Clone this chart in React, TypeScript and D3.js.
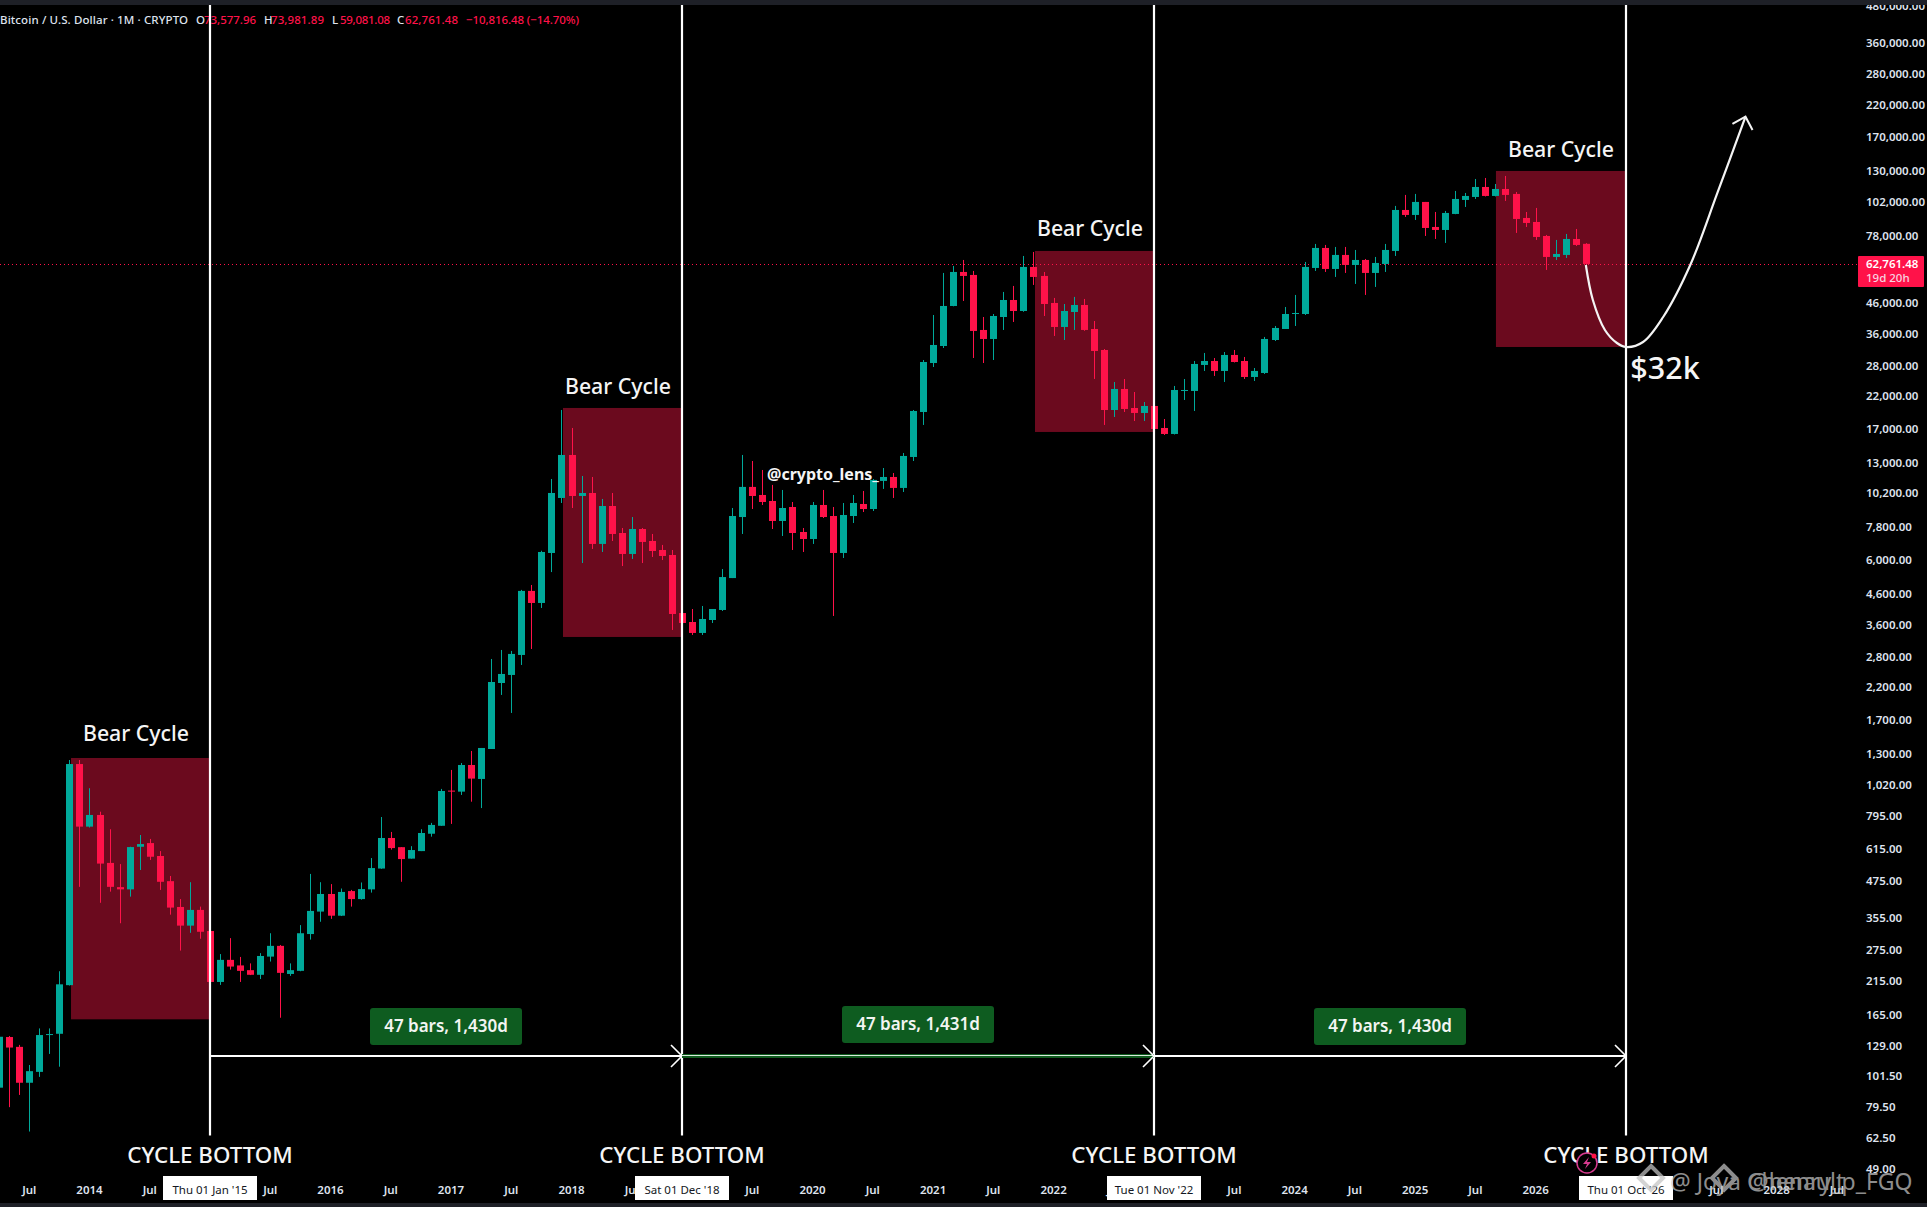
import { useEffect, useRef } from 'react';
import * as d3 from 'd3';

// monthly BTC candles, bar 0 = Apr 2013, bar 21 = Jan 2015
const opens = [
  93.2, 139.1, 128.7, 96.9, 105.6, 141.3, 142.7, 209.6, 1204, 734,
  805, 551, 455, 447, 626, 644.6, 582, 477, 389, 335.6,
  380, 321.7, 215, 256, 245, 236, 227.5, 262.7, 286, 229,
  234.7, 314, 375, 431, 363, 441, 414, 447, 527, 671,
  624, 570, 605, 694, 739, 976, 968, 1195, 1070, 1356,
  2285, 2435, 2852, 4732, 4302, 6387, 9866, 13862, 10023, 10264,
  6860, 9260, 7480, 6337, 7720, 7024, 6540, 6287, 3973, 3701,
  3394, 3760, 4070, 5238, 8487, 10768, 10103, 9634, 8225, 9187,
  7540, 7134, 9334, 8555, 6387, 8555, 9408, 9043, 11290, 11648,
  10682, 13644, 19470, 28680, 32807, 45014, 58910, 57530, 37240, 34680,
  41260, 47200, 43265, 61290, 57080, 46100, 38130, 42930, 45370, 37530,
  31790, 19780, 23357, 20097, 19320, 20420, 17159, 16365, 22990, 22990,
  28240, 29140, 26930, 30560, 29140, 25680, 26505, 34400, 37530, 42250,
  42250, 60800, 71220, 60320, 67390, 62260, 64770, 58450, 62755, 69550,
  96170, 92450, 102470, 84080, 82100, 93180, 104100, 106580, 115340, 107430,
  113540, 109170, 90280, 87470, 78300, 66330, 67390, 76460, 73577.96,
];
const highs = [
  147, 140.2, 130.7, 111.5, 148.9, 148.9, 234, 1243, 1243, 994.6,
  826, 719, 546, 626, 687, 666, 605, 497, 414, 473,
  390, 321.7, 268, 304, 262, 249, 270, 316, 288, 249,
  337, 505, 473, 466, 450, 445, 472, 572.6, 792, 703.8,
  624, 629, 719, 756, 989, 1149, 1214, 1335, 1367, 2763,
  2967, 2944, 4770, 4960, 6500, 11464, 19780, 17159, 11740, 11648,
  9790, 10264, 7782, 8487, 7782, 7422, 6806, 6540, 4268, 4102,
  4201, 4102, 5625, 9115, 13862, 13215, 12310, 10940, 10510, 9558,
  7782, 9558, 10510, 9187, 9483, 10103, 10427, 11464, 12504, 12021,
  14082, 19780, 29370, 41922, 58450, 61770, 64770, 59380, 41260, 42250,
  50300, 52740, 66850, 69000, 58910, 47970, 45730, 48360, 47590, 39980,
  32040, 24686, 25275, 22806, 21074, 21410, 18420, 23920, 25275, 29140,
  31050, 29840, 31290, 31790, 30080, 27570, 35240, 38430, 44660, 49120,
  63750, 73510, 72930, 71790, 71790, 70100, 65280, 66330, 73510, 99280,
  108300, 109170, 102470, 94660, 95410, 111760, 110010, 122870, 123850, 118110,
  125840, 110880, 94660, 97720, 78920, 75870, 79550, 82760, 73981.89,
];
const lows = [
  91, 79.9, 88, 65.9, 101.5, 121.7, 110, 209, 456, 729,
  402, 439, 342, 422, 521, 564, 445, 366, 275.5, 317,
  302.5, 167, 210, 237, 215, 227, 220, 252.6, 162, 225.6,
  234, 300.5, 346, 354, 362, 390, 412, 435.7, 526, 612,
  474.6, 570, 605, 678, 739, 750, 943, 894, 850, 1356,
  2079, 1803, 2635, 2990, 4135, 5492, 9483, 9115, 5899, 6594,
  6437, 7024, 5760, 6091, 5899, 6188, 6040, 3475, 3135, 3340,
  3340, 3672, 4038, 5238, 7422, 9043, 9334, 7720, 7305, 6540,
  6437, 6860, 8420, 3882, 6139, 8096, 8829, 8900, 10598, 9866,
  10345, 13215, 17572, 27790, 32291, 44900, 46830, 29840, 28680, 29370,
  37240, 39670, 43000, 53160, 41590, 35516, 34400, 37240, 37000, 25280,
  17572, 18716, 19470, 18136, 18136, 15487, 16236, 16300, 21410, 19624,
  26930, 25890, 24686, 28800, 25275, 24880, 26300, 34130, 37530, 38430,
  41922, 59380, 58910, 56630, 58450, 53580, 49120, 52325, 58910, 66850,
  91000, 88860, 78300, 76460, 74090, 93000, 98470, 104910, 107000, 107000,
  103300, 80190, 84080, 75870, 59850, 64770, 65790, 72350, 59081.08,
];
const closes = [
  139.4, 128, 96.9, 106.2, 141.3, 142.4, 211, 1204, 734, 805,
  548, 456, 447, 624.5, 639.5, 578.5, 474.6, 387, 335.6, 380,
  319.7, 215, 256, 242.8, 234.7, 227.5, 264, 286, 231, 236,
  316, 377, 431, 363, 438, 414, 448, 529, 671, 619.5,
  568, 610, 698, 744, 973, 968, 1195, 1073, 1367, 2303,
  2454, 2875, 4732, 4302, 6437, 10264, 13862, 10023, 10264, 6860,
  9260, 7422, 6337, 7720, 6969, 6488, 6237, 3943, 3672, 3394,
  3790, 4102, 5280, 8555, 10768, 10023, 9558, 8225, 9115, 7480,
  7134, 9334, 8487, 6387, 8623, 9483, 9043, 11380, 11648, 10682,
  13752, 19624, 28910, 33070, 45014, 58910, 57080, 36950, 34680, 41590,
  47200, 43265, 61290, 56630, 45730, 38130, 43265, 45370, 37240, 31540,
  19780, 23357, 19940, 19320, 20420, 17024, 16365, 23170, 23170, 28460,
  29140, 26930, 30560, 28910, 25680, 26930, 34680, 37830, 42250, 42590,
  61290, 71220, 60320, 67390, 62260, 64770, 58450, 63250, 70100, 96170,
  92450, 102470, 83410, 82100, 93920, 104910, 107430, 115340, 107430, 113540,
  108300, 89560, 86780, 77680, 66330, 67920, 76460, 72930, 62761.48,
];

const priceTicks = [
  480000, 360000, 280000, 220000, 170000, 130000, 102000, 78000, 46000, 36000, 28000, 22000,
  17000, 13000, 10200, 7800, 6000, 4600, 3600, 2800, 2200, 1700, 1300, 1020, 795, 615, 475,
  355, 275, 215, 165, 129, 101.5, 79.5, 62.5, 49,
];
const timeTickBars = [3, 9, 15, 27, 33, 39, 45, 51, 57, 63, 75, 81, 87, 93, 99, 105, 111, 123, 129, 135, 141, 147, 153, 171, 177, 183];
const timeTickLabels = ['Jul', '2014', 'Jul', 'Jul', '2016', 'Jul', '2017', 'Jul', '2018', 'Jul', 'Jul', '2020', 'Jul', '2021', 'Jul', '2022', 'Jul', 'Jul', '2024', 'Jul', '2025', 'Jul', '2026', 'Jul', '2028', 'Jul'];

const cycleBars = [21, 68, 115, 162];
const cycleDates = ["Thu 01 Jan '15", "Sat 01 Dec '18", "Tue 01 Nov '22", "Thu 01 Oct '26"];
const spanLabels = ['47 bars, 1,430d', '47 bars, 1,431d', '47 bars, 1,430d'];

const bearStart = [7.16, 56.15, 103.15, 149.05];
const bearEnd = [20.9, 67.9, 114.9, 161.9];
const bearHigh = [1263, 20100, 69550, 130900];
const bearLow = [160, 3288, 16625, 32550];

const projBars = [158, 158.7, 159.9, 161.1, 162, 163.7, 165.7, 168.4, 171.1, 173.9];
const projPrices = [62260, 47200, 37240, 33590, 32550, 33860, 41260, 62260, 110010, 201000];

const lastPrice = 62761.48;

const BG = '#000000';
const UP = '#00a99a';
const DOWN = '#ff1249';
const TXT = '#dfe3ee';
const FONT = "'Noto Sans', sans-serif";

const App = () => {
  const svgRef = useRef(null);

  useEffect(() => {
    if (!svgRef.current) return;
    const svg = d3.select(svgRef.current);
    svg.selectAll('*').remove();

    // 47 bars between the cycle lines, 472px apart
    const x = d3.scaleLinear().domain([21, 68]).range([210, 682]);
    const y = d3.scaleLog().domain([360000, 49]).range([43, 1169]);

    svg.append('rect').attr('width', 1927).attr('height', 1207).attr('fill', BG);

    // bear cycle boxes
    bearStart.forEach((s, i) => {
      svg.append('rect')
        .attr('x', x(s))
        .attr('width', x(bearEnd[i]) - x(s))
        .attr('y', y(bearHigh[i]))
        .attr('height', y(bearLow[i]) - y(bearHigh[i]))
        .attr('fill', '#6b0a1e');
    });

    // last price line
    svg.append('line')
      .attr('x1', 0).attr('x2', 1858)
      .attr('y1', Math.round(y(lastPrice)) + 0.5).attr('y2', Math.round(y(lastPrice)) + 0.5)
      .attr('stroke', DOWN).attr('stroke-width', 1)
      .attr('stroke-dasharray', '1 3');

    // candles
    const bars = d3.range(opens.length);
    const candles = svg.append('g').selectAll('g').data(bars).enter().append('g');
    candles.append('line')
      .attr('x1', i => Math.round(x(i)) + 0.5)
      .attr('x2', i => Math.round(x(i)) + 0.5)
      .attr('y1', i => y(highs[i]))
      .attr('y2', i => y(lows[i]))
      .attr('stroke', i => (closes[i] >= opens[i] ? UP : DOWN))
      .attr('stroke-width', 1);
    candles.append('rect')
      .attr('x', i => Math.round(x(i)) - 3)
      .attr('width', 7)
      .attr('y', i => y(Math.max(opens[i], closes[i])))
      .attr('height', i => Math.max(1, y(Math.min(opens[i], closes[i])) - y(Math.max(opens[i], closes[i]))))
      .attr('fill', i => (closes[i] >= opens[i] ? UP : DOWN));

    // legend
    const legend = svg.append('g').attr('font-family', FONT).attr('font-size', 11.5).attr('font-weight', 500);
    legend.append('text').attr('x', 0).attr('y', 24).attr('fill', TXT).attr('textLength', 188).text('Bitcoin / U.S. Dollar · 1M · CRYPTO');
    [['O', '73,577.96', 196, 204, 52], ['H', '73,981.89', 264, 271, 53], ['L', '59,081.08', 332, 340, 50], ['C', '62,761.48', 397, 405, 53]].forEach(d => {
      legend.append('text').attr('x', d[2]).attr('y', 24).attr('fill', TXT).text(d[0] as string);
      legend.append('text').attr('x', d[3]).attr('y', 24).attr('fill', DOWN).attr('textLength', d[4]).text(d[1] as string);
    });
    legend.append('text').attr('x', 466).attr('y', 24).attr('fill', DOWN).attr('textLength', 113).text('−10,816.48 (−14.70%)');

    // cycle lines
    cycleBars.forEach(b => {
      svg.append('line')
        .attr('x1', x(b)).attr('x2', x(b))
        .attr('y1', 5).attr('y2', 1135.5)
        .attr('stroke', '#fff').attr('stroke-width', 2.2);
    });

    // span arrows
    const arrowY = 1056;
    cycleBars.slice(1).forEach((b, i) => {
      const x0 = x(cycleBars[i]);
      const x1 = x(b);
      if (i === 1) {
        svg.append('line').attr('x1', x0).attr('x2', x1).attr('y1', arrowY).attr('y2', arrowY)
          .attr('stroke', '#0f5a1e').attr('stroke-width', 4);
        svg.append('line').attr('x1', x0).attr('x2', x1).attr('y1', arrowY - 0.5).attr('y2', arrowY - 0.5)
          .attr('stroke', '#d9eadb').attr('stroke-width', 1.2);
      } else {
        svg.append('line').attr('x1', x0).attr('x2', x1).attr('y1', arrowY).attr('y2', arrowY)
          .attr('stroke', '#fff').attr('stroke-width', 2);
      }
      svg.append('path')
        .attr('d', d3.line()([[x1 - 11, arrowY - 11], [x1, arrowY], [x1 - 11, arrowY + 11]]))
        .attr('fill', 'none').attr('stroke', '#fff').attr('stroke-width', 1.6);

      const mid = (x0 + x1) / 2;
      svg.append('rect')
        .attr('x', mid - 76).attr('width', 152)
        .attr('y', i === 1 ? 1006 : 1008).attr('height', 37)
        .attr('rx', 3)
        .attr('fill', '#0e5c20');
      svg.append('text')
        .attr('x', mid).attr('y', i === 1 ? 1030 : 1032)
        .attr('text-anchor', 'middle')
        .attr('font-family', FONT).attr('font-size', 17).attr('font-weight', 600)
        .attr('fill', '#f2f5f2')
        .text(spanLabels[i]);
    });

    // projection
    svg.append('path')
      .attr('d', d3.line<number>().x(b => x(b)).y((_, i) => y(projPrices[i])).curve(d3.curveCatmullRom)(projBars))
      .attr('fill', 'none').attr('stroke', '#f4f4f4').attr('stroke-width', 2.2);
    svg.append('path')
      .attr('d', d3.line()([[x(172.6), y(189800)], [x(173.9), y(201000)], [x(174.6), y(181000)]]))
      .attr('fill', 'none').attr('stroke', '#f4f4f4').attr('stroke-width', 2);

    // annotations
    const note = (tx: number, ty: number, s: string, size: number, weight = 500) =>
      svg.append('text').attr('x', tx).attr('y', ty).attr('text-anchor', 'middle')
        .attr('font-family', FONT).attr('font-size', size).attr('font-weight', weight)
        .attr('fill', '#f5f5f5').text(s);
    [[136, 741], [618, 394], [1090, 236], [1561, 157]].forEach(p => note(p[0], p[1], 'Bear Cycle', 21.3));
    cycleBars.forEach(b => note(x(b), 1163, 'CYCLE BOTTOM', 22.3));
    note(1665, 379, '$32k', 30.5);
    note(823, 480, '@crypto_lens_', 16, 700);

    // right axis
    svg.append('g').selectAll('text').data(priceTicks).enter().append('text')
      .attr('x', 1866)
      .attr('y', d => y(d) + 3.5)
      .attr('font-family', FONT).attr('font-size', 11.5).attr('font-weight', 600)
      .attr('fill', TXT)
      .text(d => d3.format(',.2f')(d));

    svg.append('rect').attr('x', 1858).attr('y', 256).attr('width', 66).attr('height', 31).attr('rx', 1).attr('fill', DOWN);
    svg.append('text').attr('x', 1866).attr('y', 268).attr('font-family', FONT).attr('font-size', 11.5).attr('font-weight', 600).attr('fill', '#fff').text(d3.format(',.2f')(lastPrice));
    svg.append('text').attr('x', 1866).attr('y', 282).attr('font-family', FONT).attr('font-size', 11.5).attr('font-weight', 500).attr('fill', '#f7d4e0').text('19d 20h');

    // time axis
    svg.append('g').selectAll('text').data(timeTickBars).enter().append('text')
      .attr('x', d => x(d))
      .attr('y', 1194)
      .attr('text-anchor', 'middle')
      .attr('font-family', FONT).attr('font-size', 11.5).attr('font-weight', 600)
      .attr('fill', TXT)
      .text((_, i) => timeTickLabels[i]);

    cycleBars.forEach((b, i) => {
      svg.append('rect').attr('x', x(b) - 47).attr('y', 1176).attr('width', 94).attr('height', 24).attr('fill', '#fff');
      svg.append('text').attr('x', x(b)).attr('y', 1194).attr('text-anchor', 'middle')
        .attr('font-family', FONT).attr('font-size', 11.5).attr('fill', '#131722').text(cycleDates[i]);
    });

    // window chrome
    svg.append('rect').attr('width', 1927).attr('height', 5).attr('fill', '#1e2027');
    svg.append('rect').attr('y', 1203).attr('width', 1927).attr('height', 4).attr('fill', '#1e2027');

    // lightning badge over the label
    const badge = svg.append('g').attr('transform', 'translate(1587,1163)');
    badge.append('circle').attr('r', 10).attr('fill', '#000').attr('stroke', '#d63a8e').attr('stroke-width', 1.5);
    badge.append('path').attr('d', 'M2,-6 L-4,1 L0,1 L-2,6 L4,-1 L0,-1 Z').attr('fill', '#d63a8e');
    badge.append('circle').attr('cx', 7).attr('cy', -7).attr('r', 2.5).attr('fill', DOWN);

    // watermark
    const wm = svg.append('g').attr('font-family', FONT).attr('font-size', 23).attr('fill', '#c4c4c4').attr('opacity', 0.72);
    wm.append('text').attr('x', 1670).attr('y', 1190).text('@ Joya  Chenault');
    wm.append('text').attr('x', 1748).attr('y', 1190).text('@henry_p_FGQ');
    [1651, 1724].forEach(cx => {
      wm.append('path')
        .attr('d', `M${cx},1166 L${cx + 12},1178 L${cx},1190 L${cx - 12},1178 Z`)
        .attr('fill', 'none').attr('stroke', '#c4c4c4').attr('stroke-width', 4);
    });
  }, []);

  return (
    <svg ref={svgRef} width={1927} height={1207} style={{ position: 'absolute', left: 0, top: 0, display: 'block' }}></svg>
  );
};

export default App;
